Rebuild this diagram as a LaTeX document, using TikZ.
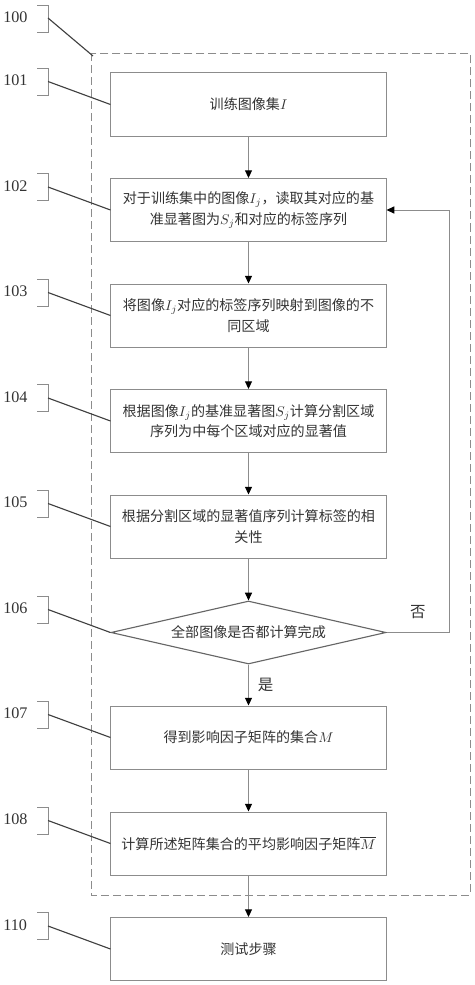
\documentclass[tikz,border=0pt]{standalone}
\usepackage{fontspec}
\setmainfont{Liberation Serif}
\newfontfamily\cjk{Noto Sans CJK SC}
\usetikzlibrary{shapes.geometric,arrows.meta}
\definecolor{boxgray}{HTML}{8C8C8C}
\definecolor{txt}{HTML}{333333}
\definecolor{leadgray}{HTML}{404040}

\begin{document}
\begin{tikzpicture}[x=0.025cm, y=-0.025cm,
  stepbox/.style={rectangle, draw=boxgray, line width=0.7pt, minimum width=6.875cm,
    minimum height=1.575cm, inner sep=0pt, align=center, text=txt,
    font=\cjk\fontsize{10}{14.5}\selectfont},
  decision/.style={diamond, draw=leadgray!80, line width=0.8pt, aspect=4.4,
    minimum width=6.875cm, minimum height=1.575cm, inner sep=0pt, text=txt,
    font=\cjk\fontsize{10}{14.5}\selectfont},
  flow/.style={draw=boxgray, line width=0.7pt, -{Triangle[length=5.5pt,width=5pt,color=black]}},
  numlabel/.style={anchor=west, inner sep=0pt, text=txt, font=\fontsize{11.5}{12}\selectfont},
  bracket/.style={draw=boxgray, line width=0.7pt},
  leader/.style={draw=leadgray, line width=0.8pt}]
\useasboundingbox (0,0) rectangle (474,985);

% dashed frame round steps 101 to 108
\draw[boxgray, line width=0.7pt, dash pattern=on 0.2cm off 0.1cm] (91,53) rectangle (470,895);
\coordinate (frame) at (93,56);

\node[stepbox] (s101) at (248.5,104.5) {训练图像集$I$};
\node[stepbox] (s102) at (248.5,210) {对于训练集中的图像$I_j$，读取其对应的基\\准显著图为$S_j$和对应的标签序列};
\node[stepbox] (s103) at (248.5,315.5) {将图像$I_j$对应的标签序列映射到图像的不\\同区域};
\node[stepbox] (s104) at (248.5,421) {根据图像$I_j$的基准显著图$S_j$计算分割区域\\序列为中每个区域对应的显著值};
\node[stepbox] (s105) at (248.5,526.5) {根据分割区域的显著值序列计算标签的相\\关性};
\node[decision] (s106) at (248.5,632.5) {全部图像是否都计算完成};
\node[stepbox] (s107) at (248.5,737.5) {得到影响因子矩阵的集合$M$};
\node[stepbox] (s108) at (248.5,843.5) {计算所述矩阵集合的平均影响因子矩阵$\overline{M}$};
\node[stepbox] (s110) at (248.5,949) {测试步骤};

\draw[flow] (s101) -- (s102);
\draw[flow] (s102) -- (s103);
\draw[flow] (s103) -- (s104);
\draw[flow] (s104) -- (s105);
\draw[flow] (s105) -- (s106);
\draw[flow] (s106) -- node[right=3pt, text=txt, font=\cjk\fontsize{11}{12}\selectfont] {是} (s107);
\draw[flow] (s107) -- (s108);
\draw[flow] (s108) -- (s110);

% loop back when not all images are done
\coordinate (back) at (449,632.5);
\draw[flow] (s106.east) -- node[above=6pt, text=txt, font=\cjk\fontsize{11}{12}\selectfont] {否} (back) |- (s102.east);

% reference numbers
\node[numlabel] (l100) at (3,17) {100};
\draw[bracket] (37,5) -- (48,5) -- (48,32) -- (37,32);
\coordinate (k100) at (48,18);
\draw[leader] (k100) -- (frame);

\foreach \n/\c in {101/104.5, 102/210, 103/315.5, 104/421, 105/526.5, 106/632.5, 107/737.5, 108/843.5, 110/949}
{
  \node[numlabel] (l\n) at (3,\c-24) {\n};
  \draw[bracket] (37,\c-36.5) -- (48,\c-36.5) -- (48,\c-9.5) -- (37,\c-9.5);
  \coordinate (k\n) at (48,\c-23);
  \draw[leader] (k\n) -- (s\n.west);
}

\end{tikzpicture}
\end{document}
